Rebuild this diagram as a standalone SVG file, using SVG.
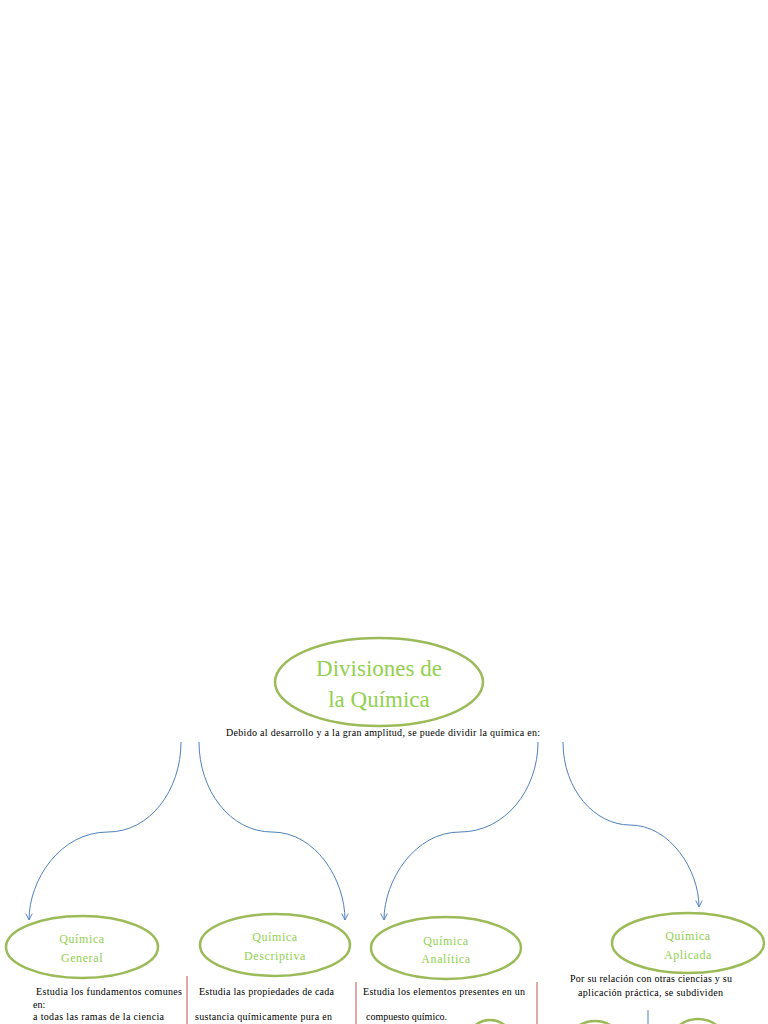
<svg xmlns="http://www.w3.org/2000/svg" width="768" height="1024" viewBox="0 0 768 1024">
<defs>
<style>
.node{fill:#fff;stroke:#9bbb59;stroke-width:2.5}
.nt{font-family:"Liberation Serif",serif;font-size:12px;fill:#92d050;text-anchor:middle;letter-spacing:0.6px}
.title{font-family:"Liberation Serif",serif;font-size:23px;fill:#92d050;text-anchor:middle}
.body{font-family:"Liberation Serif",serif;font-size:10px;fill:#000}
.conn{fill:none;stroke:#4f81bd;stroke-width:1}
.red{stroke:#c0504d;stroke-width:1}
</style>
<marker id="arr" viewBox="0 0 10 10" refX="9" refY="5" markerWidth="8" markerHeight="8" orient="auto" markerUnits="userSpaceOnUse">
<path d="M1,1 L9,5 L1,9" fill="none" stroke="#4f81bd" stroke-width="1.2"/>
</marker>
</defs>
<rect width="768" height="1024" fill="#fff"/>

<g id="title">
<ellipse class="node" cx="379" cy="682" rx="104" ry="44"/>
<text class="title" x="379" y="676">Divisiones de</text>
<text class="title" x="379" y="707">la Química</text>
</g>
<text class="body" x="226" y="736" textLength="314">Debido al desarrollo y a la gran amplitud, se puede dividir  la química en:</text>

<g id="connectors">
<path class="conn" marker-end="url(#arr)" d="M181,742 C181,790 150,832 108,832 C60,832 29,880 29,920"/>
<path class="conn" marker-end="url(#arr)" d="M199,742 C199,790 230,832 272,832 C316,832 345,880 345,920"/>
<path class="conn" marker-end="url(#arr)" d="M538,742 C538,790 505,832 460,832 C415,832 384,880 384,920"/>
<path class="conn" marker-end="url(#arr)" d="M563,742 C563,790 595,825 630,825 C670,825 699,870 699,907"/>
<line class="red" x1="187" y1="976" x2="187" y2="1024"/>
<line class="red" x1="356" y1="982" x2="356" y2="1024"/>
<line class="red" x1="537" y1="982" x2="537" y2="1024"/>
<line class="conn" x1="648" y1="1010" x2="648" y2="1024"/>
</g>

<g id="general">
<ellipse class="node" cx="82" cy="947" rx="76" ry="31"/>
<text class="nt" x="82" y="943">Química</text>
<text class="nt" x="82" y="962">General</text>
</g>
<g id="descriptiva">
<ellipse class="node" cx="275" cy="945" rx="75" ry="31"/>
<text class="nt" x="275" y="941">Química</text>
<text class="nt" x="275" y="960">Descriptiva</text>
</g>
<g id="analitica">
<ellipse class="node" cx="446" cy="948" rx="75" ry="31"/>
<text class="nt" x="446" y="945">Química</text>
<text class="nt" x="446" y="963">Analítica</text>
</g>
<g id="aplicada">
<ellipse class="node" cx="688" cy="943" rx="76" ry="30"/>
<text class="nt" x="688" y="940">Química</text>
<text class="nt" x="688" y="959">Aplicada</text>
</g>

<g id="text-general">
<text class="body" x="36" y="995" textLength="146"> Estudia los fundamentos comunes</text>
<text class="body" x="33" y="1008">en:</text>
<text class="body" x="33" y="1020" textLength="131">a todas las ramas de la ciencia</text>
</g>
<g id="text-descriptiva">
<text class="body" x="199" y="995" textLength="135">Estudia las propiedades de cada</text>
<text class="body" x="195" y="1020" textLength="137">sustancia químicamente pura en</text>
</g>
<g id="text-analitica">
<text class="body" x="363" y="995" textLength="162">Estudia los elementos presentes en un</text>
<text class="body" x="366" y="1020">compuesto químico.</text>
</g>
<g id="text-aplicada">
<text class="body" x="570" y="982" textLength="162">Por su relación con otras ciencias y su</text>
<text class="body" x="578" y="996" textLength="145">aplicación práctica, se subdividen</text>
</g>

<g id="sub1"><ellipse class="node" cx="490" cy="1045" rx="24" ry="25"/></g>
<g id="sub2"><ellipse class="node" cx="595" cy="1046" rx="28" ry="25"/></g>
<g id="sub3"><ellipse class="node" cx="698" cy="1044" rx="28" ry="25"/></g>
</svg>
